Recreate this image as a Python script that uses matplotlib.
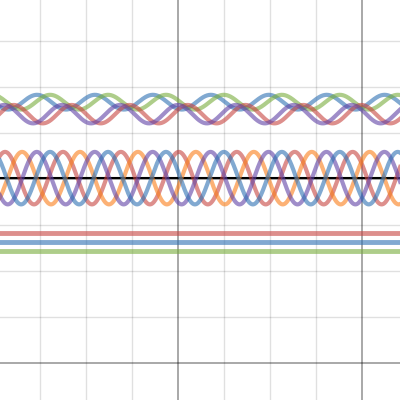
import numpy as np
import matplotlib.pyplot as plt

# Desmos-style colours
red = "#c74440"
blue = "#2d70b3"
green = "#78ad3c"
orange = "#fa7e19"
purple = "#6042a6"

period = 1.26
# top band: centre, amplitude, peak position per curve
top_colors = [blue, green, red, purple]
top_centers = [5.67, 5.67, 5.41, 5.41]
top_amps = [0.16, 0.16, 0.2, 0.2]
top_peaks = [-3.065, -2.78, -3.57, -3.78]

# middle band
mid_center = 4.02
mid_amp = 0.57
mid_colors = [red, orange, purple, blue]
mid_peaks = [-3.76, -3.39, -3.07, -2.78]

# flat lines
flat_values = [2.83, 2.63, 2.43]
flat_colors = [red, blue, green]

fig = plt.figure(figsize=(4, 4), dpi=100)
ax = fig.add_axes([0, 0, 1, 1])
ax.set_xlim(-3.87, 4.83)
ax.set_ylim(-0.8, 7.89)

for v in np.arange(-3, 5):
    ax.axvline(v, color="#000000", alpha=0.4 if v % 4 == 0 else 0.12, lw=1.2 if v % 4 == 0 else 1, zorder=0)
for v in np.arange(0, 8):
    ax.axhline(v, color="#000000", alpha=0.4 if v % 4 == 0 else 0.12, lw=1.2 if v % 4 == 0 else 1, zorder=0)

x = np.linspace(-4, 5, 2000)
for c, cen, a, x0 in zip(top_colors, top_centers, top_amps, top_peaks):
    ax.plot(x, cen + a * np.cos(2 * np.pi * (x - x0) / period), color=c, lw=3, alpha=0.6)
ax.axhline(mid_center, color="black", lw=1.5)
for c, x0 in zip(mid_colors, mid_peaks):
    ax.plot(x, mid_center + mid_amp * np.cos(2 * np.pi * (x - x0) / period), color=c, lw=3, alpha=0.6)
for v, c in zip(flat_values, flat_colors):
    ax.axhline(v, color=c, lw=3.5, alpha=0.6)

ax.set_xticks([])
ax.set_yticks([])
for s in ax.spines.values():
    s.set_visible(False)
fig.savefig("out.png", dpi=100)
